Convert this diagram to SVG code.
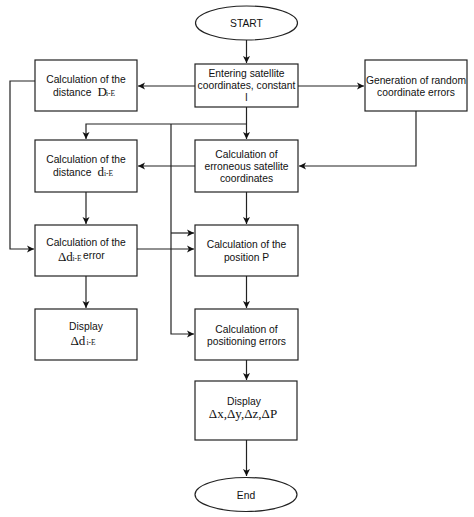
<svg xmlns="http://www.w3.org/2000/svg" width="474" height="517" viewBox="0 0 474 517">
<style>
.box{fill:#fff;stroke:#222;stroke-width:1.2}
.t{font-family:"Liberation Sans",Arial,sans-serif;font-size:10.3px;fill:#111;text-anchor:middle}
.l{font-family:"Liberation Sans",Arial,sans-serif;font-size:10.3px;fill:#111}
.m{font-family:"Liberation Serif","Times New Roman",serif;font-size:13px;fill:#111}
.s{font-family:"Liberation Serif","Times New Roman",serif;font-size:7.5px;fill:#111}
.c{fill:none;stroke:#222;stroke-width:1.2}
</style>
<defs>
<marker id="ah" markerWidth="8" markerHeight="8" refX="7" refY="4" orient="auto" markerUnits="userSpaceOnUse">
<path d="M0,0.5 L7,4 L0,7.5 L1.8,4 Z" fill="#111"/>
</marker>
</defs>
<rect width="474" height="517" fill="#fff"/>
<g id="connectors">
<path class="c" d="M246.5,40 V63" marker-end="url(#ah)"/>
<path class="c" d="M195,86 H138" marker-end="url(#ah)"/>
<path class="c" d="M298,86 H364" marker-end="url(#ah)"/>
<path class="c" d="M35,81 H10 V249 H34" marker-end="url(#ah)"/>
<path class="c" d="M246.5,107 V139" marker-end="url(#ah)"/>
<path class="c" d="M246.5,124 H86 V139" marker-end="url(#ah)"/>
<path class="c" d="M171,124 V334 H194" marker-end="url(#ah)"/>
<path class="c" d="M171,233 H194" marker-end="url(#ah)"/>
<path class="c" d="M416,111 V166 H299" marker-end="url(#ah)"/>
<path class="c" d="M195,166 H138" marker-end="url(#ah)"/>
<path class="c" d="M86,192 V224" marker-end="url(#ah)"/>
<path class="c" d="M246.5,192 V224" marker-end="url(#ah)"/>
<path class="c" d="M137,249 H194" marker-end="url(#ah)"/>
<path class="c" d="M86,276 V308" marker-end="url(#ah)"/>
<path class="c" d="M246.5,276 V308" marker-end="url(#ah)"/>
<path class="c" d="M246.5,360 V380" marker-end="url(#ah)"/>
<path class="c" d="M246.5,440 V476" marker-end="url(#ah)"/>
</g>
<g id="start">
<ellipse class="box" cx="246.5" cy="23" rx="51" ry="17"/>
<text class="t" x="246.5" y="27">START</text>
</g>
<g id="entering">
<rect class="box" x="195" y="64" width="103" height="43"/>
<text class="t" x="246.5" y="77">Entering satellite</text>
<text class="t" x="246.5" y="89">coordinates, constant</text>
<text class="t" x="246.5" y="101">l</text>
</g>
<g id="calcD">
<rect class="box" x="35" y="60" width="102" height="51"/>
<text class="t" x="86" y="83">Calculation of the</text>
<text class="l" x="53" y="96">distance</text>
<text class="m" x="97.5" y="96" font-size="11px">D</text>
<text class="s" x="106" y="96">i-E</text>
</g>
<g id="generation">
<rect class="box" x="365" y="60" width="102" height="51"/>
<text class="t" x="416" y="84">Generation of random</text>
<text class="t" x="416" y="96">coordinate errors</text>
</g>
<g id="calcd">
<rect class="box" x="35" y="140" width="102" height="52"/>
<text class="t" x="86" y="163">Calculation of the</text>
<text class="l" x="53" y="176">distance</text>
<text class="m" x="97.5" y="176" font-size="11.5px">d</text>
<text class="s" x="104" y="176">i-E</text>
</g>
<g id="erroneous">
<rect class="box" x="195" y="140" width="103" height="52"/>
<text class="t" x="246.5" y="158">Calculation of</text>
<text class="t" x="246.5" y="170">erroneous satellite</text>
<text class="t" x="246.5" y="182">coordinates</text>
</g>
<g id="deltaErr">
<rect class="box" x="35" y="225" width="102" height="51"/>
<text class="t" x="86" y="246">Calculation of the</text>
<text class="m" x="58" y="260.5">Δd</text>
<text class="s" x="72.5" y="260.5">i-E</text>
<text class="l" x="83" y="259">error</text>
</g>
<g id="position">
<rect class="box" x="195" y="225" width="103" height="51"/>
<text class="t" x="246.5" y="248">Calculation of the</text>
<text class="t" x="246.5" y="261">position P</text>
</g>
<g id="display1">
<rect class="box" x="35" y="309" width="102" height="51"/>
<text class="t" x="86" y="330">Display</text>
<text class="m" x="70.5" y="345" font-size="14px">Δd</text>
<text class="s" x="86.5" y="345">i-E</text>
</g>
<g id="posErrors">
<rect class="box" x="195" y="309" width="103" height="51"/>
<text class="t" x="246.5" y="333">Calculation of</text>
<text class="t" x="246.5" y="345">positioning errors</text>
</g>
<g id="display2">
<rect class="box" x="195" y="381" width="102" height="59"/>
<text class="t" x="244" y="405">Display</text>
<text class="m" x="243" y="418" font-size="10.5px" text-anchor="middle">Δx,Δy,Δz,ΔP</text>
</g>
<g id="end">
<ellipse class="box" cx="246" cy="494.5" rx="51" ry="17"/>
<text class="t" x="246" y="498.5">End</text>
</g>
</svg>
